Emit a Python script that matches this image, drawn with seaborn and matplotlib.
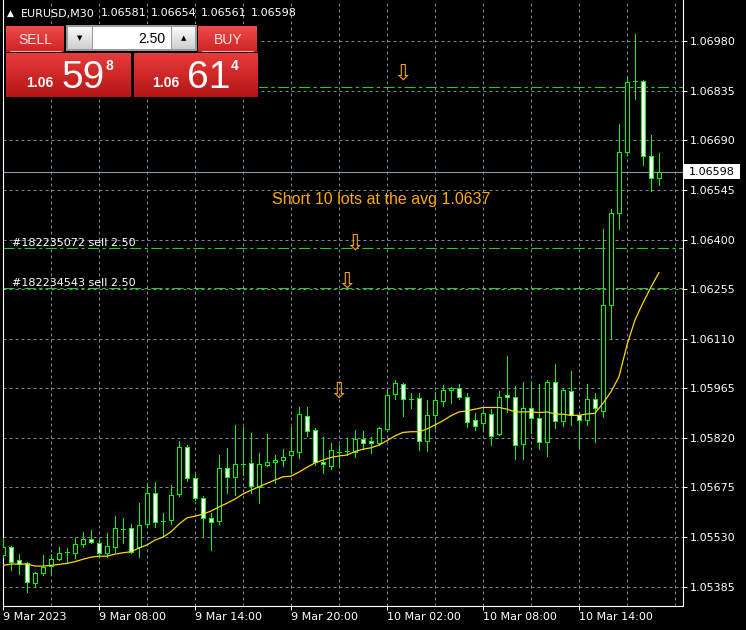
import numpy as np
import pandas as pd
import matplotlib.pyplot as plt
import seaborn as sns
from matplotlib.colors import LinearSegmentedColormap
from matplotlib.lines import Line2D
from matplotlib.patches import Rectangle
from matplotlib.transforms import blended_transform_factory

# EURUSD M30 bars, one every half hour from 9 Mar 2023 02:00
opens = [1.05477, 1.05501, 1.05463, 1.05454, 1.05395, 1.05425, 1.05445, 1.05466, 1.05486, 1.05484,
         1.05509, 1.05523, 1.05512, 1.05484, 1.05502, 1.05553, 1.05555, 1.05502, 1.05567, 1.05658,
         1.05578, 1.05580, 1.05655, 1.05792, 1.05702, 1.05643, 1.05585, 1.05578, 1.05731, 1.05705,
         1.05744, 1.05746, 1.05677, 1.05742, 1.05748, 1.05756, 1.05769, 1.05778, 1.05884, 1.05842,
         1.05748, 1.05739, 1.05780, 1.05782, 1.05778, 1.05816, 1.05811, 1.05804, 1.05846, 1.05947,
         1.05977, 1.05935, 1.05936, 1.05811, 1.05887, 1.05929, 1.05960, 1.05965, 1.05939, 1.05872,
         1.05863, 1.05890, 1.05830, 1.05944, 1.05939, 1.05801, 1.05906, 1.05877, 1.05807, 1.05983,
         1.05869, 1.05958, 1.05887, 1.05872, 1.05933, 1.05899, 1.06208, 1.06479, 1.06657, 1.06865,
         1.06865, 1.06645, 1.06581]
highs = [1.05527, 1.05504, 1.05480, 1.05457, 1.05428, 1.05477, 1.05480, 1.05501, 1.05498, 1.05527,
         1.05545, 1.05550, 1.05521, 1.05543, 1.05591, 1.05586, 1.05568, 1.05629, 1.05688, 1.05690,
         1.05601, 1.05681, 1.05811, 1.05799, 1.05713, 1.05650, 1.05600, 1.05770, 1.05789, 1.05858,
         1.05851, 1.05835, 1.05775, 1.05831, 1.05770, 1.05787, 1.05853, 1.05909, 1.05911, 1.05848,
         1.05822, 1.05806, 1.05799, 1.05819, 1.05843, 1.05840, 1.05823, 1.05853, 1.05960, 1.05989,
         1.05981, 1.05950, 1.05950, 1.05931, 1.05953, 1.05975, 1.05970, 1.05978, 1.05950, 1.05894,
         1.05906, 1.05904, 1.05957, 1.06059, 1.05972, 1.05984, 1.05987, 1.05978, 1.05989, 1.06036,
         1.05965, 1.06016, 1.05894, 1.05978, 1.05950, 1.06430, 1.06489, 1.06737, 1.06872, 1.07001,
         1.06868, 1.06706, 1.06654]
lows = [1.05472, 1.05433, 1.05422, 1.05370, 1.05385, 1.05419, 1.05422, 1.05463, 1.05454, 1.05469,
        1.05502, 1.05512, 1.05472, 1.05472, 1.05487, 1.05513, 1.05484, 1.05472, 1.05560, 1.05560,
        1.05529, 1.05567, 1.05650, 1.05695, 1.05638, 1.05529, 1.05492, 1.05568, 1.05658, 1.05653,
        1.05711, 1.05658, 1.05629, 1.05738, 1.05687, 1.05738, 1.05717, 1.05760, 1.05826, 1.05741,
        1.05716, 1.05729, 1.05736, 1.05770, 1.05763, 1.05787, 1.05775, 1.05799, 1.05841, 1.05934,
        1.05885, 1.05908, 1.05784, 1.05782, 1.05848, 1.05914, 1.05923, 1.05933, 1.05853, 1.05843,
        1.05843, 1.05799, 1.05828, 1.05897, 1.05757, 1.05757, 1.05833, 1.05787, 1.05767, 1.05848,
        1.05856, 1.05858, 1.05789, 1.05858, 1.05809, 1.05882, 1.06108, 1.06430, 1.06647, 1.06810,
        1.06618, 1.06543, 1.06561]
closes = [1.05501, 1.05457, 1.05451, 1.05398, 1.05425, 1.05442, 1.05466, 1.05483, 1.05486, 1.05509,
          1.05523, 1.05514, 1.05484, 1.05504, 1.05555, 1.05553, 1.05487, 1.05565, 1.05658, 1.05575,
          1.05578, 1.05652, 1.05792, 1.05702, 1.05643, 1.05585, 1.05575, 1.05731, 1.05705, 1.05743,
          1.05744, 1.05679, 1.05743, 1.05748, 1.05755, 1.05763, 1.05782, 1.05890, 1.05841, 1.05750,
          1.05743, 1.05784, 1.05780, 1.05782, 1.05817, 1.05806, 1.05804, 1.05848, 1.05945, 1.05980,
          1.05933, 1.05935, 1.05811, 1.05887, 1.05931, 1.05960, 1.05965, 1.05939, 1.05867, 1.05856,
          1.05892, 1.05826, 1.05939, 1.05939, 1.05798, 1.05906, 1.05877, 1.05807, 1.05983, 1.05869,
          1.05960, 1.05887, 1.05872, 1.05933, 1.05906, 1.06208, 1.06477, 1.06655, 1.06862, 1.06865,
          1.06645, 1.06579, 1.06598]
# moving average as drawn on the chart (yellow line)
ma_line = [1.05447, 1.05451, 1.05451, 1.05451, 1.05445, 1.05445, 1.05447, 1.05450, 1.05453, 1.05458,
           1.05465, 1.05471, 1.05474, 1.05474, 1.05480, 1.05484, 1.05487, 1.05498, 1.05507, 1.05521,
           1.05530, 1.05545, 1.05568, 1.05586, 1.05591, 1.05597, 1.05606, 1.05618, 1.05629, 1.05641,
           1.05656, 1.05667, 1.05677, 1.05687, 1.05697, 1.05706, 1.05708, 1.05720, 1.05734, 1.05747,
           1.05755, 1.05763, 1.05767, 1.05770, 1.05780, 1.05787, 1.05791, 1.05799, 1.05812, 1.05826,
           1.05836, 1.05838, 1.05838, 1.05846, 1.05858, 1.05870, 1.05885, 1.05896, 1.05899, 1.05904,
           1.05909, 1.05909, 1.05909, 1.05904, 1.05896, 1.05896, 1.05896, 1.05894, 1.05896, 1.05890,
           1.05889, 1.05886, 1.05886, 1.05890, 1.05892, 1.05921, 1.05955, 1.05999, 1.06092, 1.06165,
           1.06215, 1.06261, 1.06304]

price_ticks = [1.05385, 1.05530, 1.05675, 1.05820, 1.05965, 1.06110,
               1.06255, 1.06400, 1.06545, 1.06690, 1.06835, 1.06980]
time_ticks = [0, 12, 24, 36, 48, 60, 72]
time_labels = ["9 Mar 2023", "9 Mar 08:00", "9 Mar 14:00", "9 Mar 20:00",
               "10 Mar 02:00", "10 Mar 08:00", "10 Mar 14:00"]

order_prices = [1.06845, 1.06375, 1.06259]
order_texts = ["", "#182235072 sell 2.50", "#182234543 sell 2.50"]
arrow_bars = [49.9, 44.0, 42.9, 41.9]
arrow_prices = [1.06887, 1.06387, 1.06277, 1.05955]
last_price = 1.06598
header_values = ["1.06581", "1.06654", "1.06561", "1.06598"]
note_text = "Short 10 lots at the avg 1.0637"

df = pd.DataFrame({"bar": range(len(opens)), "open": opens, "high": highs,
                   "low": lows, "close": closes, "ma": ma_line})

sns.set_theme(style="dark", rc={"axes.facecolor": "black", "figure.facecolor": "black"})
plt.rcParams["font.family"] = ["DejaVu Sans"]

W, H = 746, 630
GREEN = "#00FF00"
GRID = "#778899"
fig = plt.figure(figsize=(W / 100, H / 100), dpi=100)
ax = fig.add_axes([2.5 / W, (H - 605.5) / H, 680.5 / W, 605.5 / H])
ax.set_facecolor("black")

# pixel scale of the price axis (12 ticks, 0.00145 apart)
px_per_unit = 34188.0
ax.set_ylim(1.06980 - (605.5 - 41.3) / px_per_unit, 1.06980 + 41.3 / px_per_unit)
ax.set_xlim(-0.0625, -0.0625 + 680.5 / 8)

for p in price_ticks:
    ax.axhline(p, color=GRID, lw=0.72, ls=(0, (3, 3)), zorder=1)
for b in range(6, 85, 6):
    ax.axvline(b, color=GRID, lw=0.72, ls=(0, (3, 3)), zorder=1)

for p, t in zip(order_prices, order_texts):
    ax.axhline(p, color="#22CC22", lw=0.8, ls=(0, (10, 3, 3, 3)), zorder=2)
    if t:
        ax.annotate(t, xy=(1.1, p), xytext=(0, 1.5), textcoords="offset points",
                    va="baseline", ha="left", color="white", fontsize=8, zorder=6)

ax.axhline(last_price, color="#8C9AAA", lw=0.8, zorder=2)

# candles: black body = up bar, white body = down bar
ax.vlines(df["bar"], df["low"], df["high"], color=GREEN, lw=0.6, zorder=3, antialiased=False)
bull = df["close"] >= df["open"]
ax.bar(df["bar"][bull], (df["close"] - df["open"])[bull], bottom=df["open"][bull],
       width=0.62, color="black", edgecolor=GREEN, linewidth=0.6, zorder=4, antialiased=False)
ax.bar(df["bar"][~bull], (df["open"] - df["close"])[~bull], bottom=df["close"][~bull],
       width=0.62, color="white", edgecolor=GREEN, linewidth=0.6, zorder=4, antialiased=False)

sns.lineplot(data=df, x="bar", y="ma", ax=ax, color="#FFD700", linewidth=0.9, zorder=5)

for b, p in zip(arrow_bars, arrow_prices):
    ax.text(b, p, "\u21e9", ha="center", va="center", color="#FFA500", fontsize=16, zorder=6)

ax.text(47.25, 1.06516, note_text, ha="center", va="center", color="#FFAA00",
        fontsize=11.5, family="Liberation Sans", zorder=6)

# axes look
ax.grid(False)
ax.set_xlabel("")
ax.set_ylabel("")
for side in ["left", "bottom", "right"]:
    ax.spines[side].set_visible(True)
    ax.spines[side].set_color("white")
    ax.spines[side].set_linewidth(0.8)
ax.spines["top"].set_visible(False)

ax.yaxis.tick_right()
ax.set_yticks(price_ticks)
ax.set_yticklabels([f"{p:.5f}" for p in price_ticks])
ax.set_xticks(time_ticks)
ax.set_xticklabels(time_labels)
for lbl in ax.get_xticklabels():
    lbl.set_horizontalalignment("left")
ax.tick_params(axis="y", right=True, left=False, labelright=True, labelleft=False,
               colors="white", length=3, width=0.72, pad=2, labelsize=8)
ax.tick_params(axis="x", bottom=True, colors="white", length=3, width=0.72, pad=1.5, labelsize=8)

# current price tag on the scale
tr = blended_transform_factory(ax.transAxes, ax.transData)
ax.add_patch(Rectangle((1.0, last_price - 7.5 / px_per_unit), 57 / 680.5, 15 / px_per_unit,
                       transform=tr, clip_on=False, facecolor="white", edgecolor="none", zorder=7))
ax.text(1.0 + 6 / 680.5, last_price, f"{last_price:.5f}", transform=tr, ha="left", va="center",
        color="black", fontsize=8, clip_on=False, zorder=8)


def fig_text(x, y, s, **kw):
    fig.text(x / W, 1 - y / H, s, **kw)


def fig_box(x0, y0, x1, y1, c_top, c_bot):
    pa = fig.add_axes([x0 / W, 1 - y1 / H, (x1 - x0) / W, (y1 - y0) / H])
    cmap = LinearSegmentedColormap.from_list("g", [c_top, c_bot])
    pa.imshow(np.linspace(0, 1, 40).reshape(-1, 1), cmap=cmap, aspect="auto",
              extent=[0, 1, 0, 1], interpolation="bilinear")
    pa.set_axis_off()


def fig_line(x0, x1, y, color):
    fig.add_artist(Line2D([x0 / W, x1 / W], [1 - y / H, 1 - y / H], color=color, lw=0.8))


# header
fig_text(6.5, 15.5, "\u25b2", color="white", fontsize=6.5, va="baseline")
fig_text(21, 16.5, "EURUSD,M30", color="white", fontsize=8, va="baseline")
for x, v in zip([101, 151, 201, 251], header_values):
    fig_text(x, 16.5, v, color="white", fontsize=8, va="baseline")

# one-click trading panel
fig_box(4, 24, 259, 99, "black", "black")
fig_box(6, 26, 64, 52, "#F04A4A", "#CC2424")
fig_box(198, 26, 257, 52, "#F04A4A", "#CC2424")
fig_line(10, 61, 51, "#F6A8A8")
fig_line(202, 253, 51, "#F6A8A8")
fig_text(35, 44, "SELL", ha="center", va="baseline", color="#FFE8E8", fontsize=10, family="Liberation Sans")
fig_text(228, 44, "BUY", ha="center", va="baseline", color="#FFE8E8", fontsize=10, family="Liberation Sans")
fig_box(66, 25, 197, 51, "#9A9A9A", "#9A9A9A")
fig_box(68, 27, 92, 49, "#FAFAFA", "#CFCFCF")
fig_box(93, 27, 171, 49, "white", "white")
fig_box(172, 27, 195, 49, "#FAFAFA", "#CFCFCF")
fig_text(80, 38, "\u25bc", ha="center", va="center", color="black", fontsize=5)
fig_text(183.5, 38, "\u25b2", ha="center", va="center", color="black", fontsize=5)
fig_text(165, 43, "2.50", ha="right", va="baseline", color="black", fontsize=10, family="Liberation Sans")

fig_box(6, 53, 131, 97, "#E83A3A", "#B41616")
fig_box(134, 53, 258, 97, "#E83A3A", "#B41616")
for x0, big, small in [(26, "59", "8"), (152, "61", "4")]:
    fig_text(x0, 87, "1.06", color="white", fontsize=10, weight="bold", family="Liberation Sans", va="baseline")
    fig_text(x0 + 35, 88, big, color="white", fontsize=28, family="Liberation Sans", va="baseline")
    fig_text(x0 + 79, 70, small, color="white", fontsize=10, weight="bold", family="Liberation Sans", va="baseline")

fig.savefig("out.png", dpi=100, facecolor="black")
